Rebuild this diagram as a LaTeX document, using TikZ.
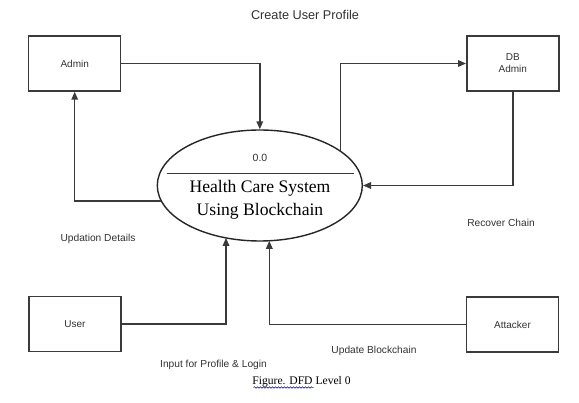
\documentclass[tikz,border=0pt]{standalone}
\usepackage{fontspec}
\setmainfont{Liberation Serif}
\setsansfont{Liberation Sans}
\usetikzlibrary{arrows.meta,shapes.geometric,decorations.pathmorphing}
\definecolor{linec}{HTML}{3A3A3A}
\definecolor{txtc}{HTML}{333333}
\tikzset{
  box/.style={draw=linec, line width=1.5pt, minimum width=92pt, minimum height=55pt, inner sep=0pt,
    font=\sffamily\fontsize{10}{12}\selectfont, text=txtc, align=center},
  proc/.style={draw=black!85, line width=1.4pt, ellipse, minimum width=205pt, minimum height=111pt, inner sep=0pt},
  conn/.style={draw=linec, line width=1.5pt},
  arr/.style={conn, -{Triangle[length=8pt,width=6.5pt]}},
  lbl/.style={font=\sffamily\fontsize{10.2}{12}\selectfont, text=txtc, inner sep=0pt},
}
\begin{document}
\begin{tikzpicture}[x=1pt,y=-1pt]
\useasboundingbox[fill=white] (0,0) rectangle (579,403);
% boxes
\node[box] (admin) at (74.7,63.5) {Admin};
\node[box] (dbadmin) at (512.8,63.5) {DB\\Admin};
\node[box] (user) at (74.9,324.2) {User};
\node[box] (attacker) at (512.5,324.5) {Attacker};
% process
\node[proc] (proc) at (259.8,185.5) {};
\node[font=\sffamily\fontsize{10.5}{12}\selectfont, text=txtc, inner sep=0pt] (num) at (260,158.3) {0.0};
\coordinate (divL) at (167,173.3);
\coordinate (divR) at (354,173.3);
\draw[conn] (divL) -- (divR);
\node[font=\fontsize{17.6}{23}\selectfont, align=center, inner sep=0pt, text=black] (title) at (260,199.5) {Health Care System\\Using Blockchain};
% connector end points on the ellipse
\coordinate (pTR) at (340.7,151.4);
\coordinate (pL) at (161.4,201);
\coordinate (pB1) at (226,237.9);
\coordinate (pB2) at (269.3,240.8);
% connectors
\draw[arr] (admin.east) -| (proc.north);
\draw[arr] (pTR) |- (dbadmin.west);
\draw[arr] (pL) -| (admin.south);
\draw[arr] (dbadmin.south) |- (proc.east);
\draw[arr] (user.east) -| (pB1);
\draw[arr] (attacker.west) -| (pB2);
% labels
\node[font=\sffamily\fontsize{12.7}{14}\selectfont, text=txtc, inner sep=0pt] (t1) at (305,15) {Create User Profile};
\node[lbl] (t2) at (98,239) {Updation Details};
\node[lbl] (t3) at (501,223) {Recover Chain};
\node[lbl] (t4) at (374,350.5) {Update Blockchain};
\node[lbl] (t5) at (213.5,364.5) {Input for Profile \& Login};
\node[font=\fontsize{11.6}{13}\selectfont, inner sep=0pt, text=black] (cap) at (301.5,381.5) {Figure. DFD Level 0};
\coordinate (wvL) at (253.5,387.5);
\coordinate (wvR) at (313.5,387.5);
\draw[blue!80!black, line width=0.5pt, decorate, decoration={snake, amplitude=0.8pt, segment length=3pt}] (wvL) -- (wvR);
\end{tikzpicture}
\end{document}
